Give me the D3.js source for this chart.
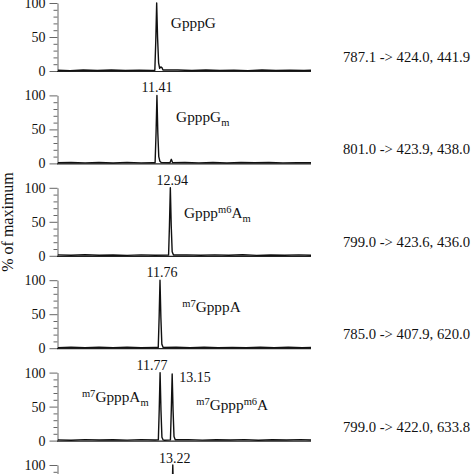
<!DOCTYPE html>
<html>
<head>
<meta charset="utf-8">
<script src="https://cdn.jsdelivr.net/npm/d3@7"></script>
<style>
  body { margin: 0; background: #fff; }
  text { font-family: "Liberation Serif", "DejaVu Serif", serif; fill: #111; }
</style>
</head>
<body>
<svg id="chart" width="474" height="474"></svg>
<script>
// retention time (min) vs % of maximum, one trace per panel
var traceGpppG = [[0.1,1.2],[1.5,0.6],[3,1.4],[4.6,0.8],[6.2,1.5],[7.8,0.7],[9.4,1.3],[10.8,0.9],
  [11.17,1],[11.28,45],[11.38,100],[11.48,50],[11.6,12],[11.72,4],[11.85,6],[11.98,5],[12.1,1.5],
  [13.8,1.4],[15.4,0.7],[17,1.5],[18.6,0.9],[20.2,1.3],[21.8,0.6],[23.4,1.4],[25,0.8],[26.6,1.2],[28.2,0.7],[29,1.1]];
var traceGpppGm = [[0.1,0.9],[1.6,1.4],[3.2,0.7],[4.8,1.3],[6.4,0.6],[8,1.5],[9.6,0.8],[10.9,1.2],
  [11.2,1],[11.31,45],[11.41,100],[11.51,45],[11.62,10],[11.75,3],[11.9,1.2],
  [12.9,1],[13.05,6],[13.2,1.1],[14.6,1.4],[16.2,0.7],[17.8,1.3],[19.4,0.6],[21,1.4],[22.6,0.9],[24.2,1.3],[25.8,0.7],[27.4,1.2],[29,0.9]];
var traceGpppm6Am = [[0.1,1.3],[1.6,0.7],[3.2,1.5],[4.8,0.8],[6.4,1.2],[8,0.6],[9.6,1.4],[11.2,0.8],
  [12.74,1],[12.84,45],[12.94,100],[13.04,45],[13.15,6],[13.3,1.1],
  [14.8,1.4],[16.4,0.7],[18,1.3],[19.6,0.8],[21.2,1.5],[22.8,0.6],[24.4,1.2],[26,0.9],[27.6,1.4],[29,0.8]];
var traceM7GpppA = [[0.1,0.8],[1.6,1.4],[3.2,0.6],[4.8,1.3],[6.4,0.9],[8,1.5],[9.6,0.7],[11.2,1.2],
  [11.56,1],[11.66,45],[11.76,100],[11.86,45],[11.97,6],[12.12,1.1],
  [13.6,1.3],[15.2,0.7],[16.8,1.4],[18.4,0.8],[20,1.2],[21.6,0.6],[23.2,1.5],[24.8,0.9],[26.4,1.3],[28,0.7],[29,1.1]];
var traceM7GpppAmMix = [[0.1,1.1],[1.6,0.6],[3.2,1.4],[4.8,0.8],[6.4,1.3],[8,0.7],[9.6,1.5],[11.2,0.9],
  [11.57,1],[11.67,45],[11.77,100],[11.87,45],[11.98,5],[12.12,1],[12.28,0.5],
  [12.95,1],[13.05,45],[13.15,98],[13.25,45],[13.36,6],[13.5,1.2],
  [15,1.4],[16.6,0.7],[18.2,1.3],[19.8,0.8],[21.4,1.5],[23,0.6],[24.6,1.2],[26.2,0.9],[27.8,1.4],[29,0.8]];
var traceM7Gpppm6Am = [[0.1,1],[3,1.3],[6,0.7],[9,1.2],[12,0.8],
  [13.02,1],[13.12,45],[13.22,100],[13.32,45],[13.43,6],[13.58,1],
  [16,1.3],[19,0.7],[22,1.2],[25,0.8],[29,1.1]];

var traces = [traceGpppG, traceGpppGm, traceGpppm6Am, traceM7GpppA, traceM7GpppAmMix, traceM7Gpppm6Am];

// transitions shown to the right of each panel
var transitions = ['787.1 -> 424.0, 441.9', '801.0 -> 423.9, 438.0', '799.0 -> 423.6, 436.0',
  '785.0 -> 407.9, 620.0', '799.0 -> 422.0, 633.8'];

// peak retention time labels
var peakPanel = [1, 2, 3, 4, 4, 5];
var peakTimes = [11.41, 12.94, 11.76, 11.77, 13.15, 13.22];
var peakAnchor = ['middle', 'middle', 'middle', 'middle', 'start', 'middle'];
var peakDx = [0, 2, 2, -8, 7, 2];
var peakDy = [-3, -3, -3, -3, 9, -2];

// compound names: parts are [text, shift] with shift 0 normal, 1 sup, -1 sub
var compoundPanel = [0, 1, 2, 3, 4, 4];
var compoundParts = [
  [['GpppG', 0]],
  [['GpppG', 0], ['m', -1]],
  [['Gppp', 0], ['m6', 1], ['A', 0], ['m', -1]],
  [['m7', 1], ['GpppA', 0]],
  [['m7', 1], ['GpppA', 0], ['m', -1]],
  [['m7', 1], ['Gppp', 0], ['m6', 1], ['A', 0]]
];
var compoundTime = [13.0, 13.6, 14.5, 14.3, 2.85, 15.9];
var compoundDy = [25, 27, 30, 32, 29, 37];

var yTicks = [0, 50, 100];
var yMinor = [10, 20, 30, 40, 60, 70, 80, 90];

var svg = d3.select('#chart');
var panelTop = 3, panelStep = 92.4, panelH = 68;

var x = d3.scaleLinear([0, 29], [57, 311]);

svg.append('text')
  .attr('transform', 'translate(13,222) rotate(-90)')
  .attr('text-anchor', 'middle')
  .style('font-size', '16px')
  .text('% of maximum');

traces.forEach(function(tr, i) {
  var top = panelTop + i * panelStep;
  var y = d3.scaleLinear([0, 100], [top + panelH, top]);
  var g = svg.append('g');

  // minor ticks
  g.append('g').attr('transform', 'translate(57.5,0)')
    .call(d3.axisLeft(y).tickValues(yMinor).tickSize(4).tickFormat(''))
    .call(function(a) {
      a.select('.domain').remove();
      a.selectAll('line').attr('stroke', '#666');
    });

  g.append('g').attr('transform', 'translate(57.5,0)')
    .call(d3.axisLeft(y).tickValues(yTicks).tickSize(8).tickSizeOuter(0).tickPadding(4))
    .call(function(a) {
      a.select('.domain').attr('stroke', '#666');
      a.selectAll('line').attr('stroke', '#666');
      a.selectAll('text').style('font-size', '14px')
        .style('font-family', '"Liberation Serif", serif').attr('fill', '#111');
    });

  // baseline
  g.append('line')
    .attr('x1', x(0)).attr('x2', x(29))
    .attr('y1', y(0) + 0.5).attr('y2', y(0) + 0.5)
    .attr('stroke', '#222').attr('stroke-width', 1.2);

  g.append('path')
    .datum(tr)
    .attr('fill', 'none')
    .attr('stroke', '#111')
    .attr('stroke-width', 1.4)
    .attr('stroke-linejoin', 'round')
    .attr('d', d3.line().x(function(d) { return x(d[0]); }).y(function(d) { return y(d[1]); }));

  if (i < transitions.length) {
    g.append('text')
      .attr('x', 343).attr('y', y(0) - 9)
      .style('font-size', '14.7px')
      .text(transitions[i]);
  }
});

peakTimes.forEach(function(t, k) {
  var top = panelTop + peakPanel[k] * panelStep;
  svg.append('text')
    .attr('x', x(t) + peakDx[k])
    .attr('y', top + peakDy[k])
    .attr('text-anchor', peakAnchor[k])
    .style('font-size', '14px')
    .text(t.toFixed(2));
});

compoundParts.forEach(function(parts, k) {
  var top = panelTop + compoundPanel[k] * panelStep;
  var t = svg.append('text')
    .attr('x', x(compoundTime[k]))
    .attr('y', top + compoundDy[k])
    .style('font-size', '15.3px');
  var prev = 0;
  parts.forEach(function(p) {
    var s = p[1];
    var shift = (s === 1 ? -5 : s === -1 ? 4 : 0) - (prev === 1 ? -5 : prev === -1 ? 4 : 0);
    t.append('tspan')
      .attr('dy', shift)
      .style('font-size', s === 0 ? '15.3px' : '10.5px')
      .text(p[0]);
    prev = s;
  });
});
</script>
</body>
</html>
